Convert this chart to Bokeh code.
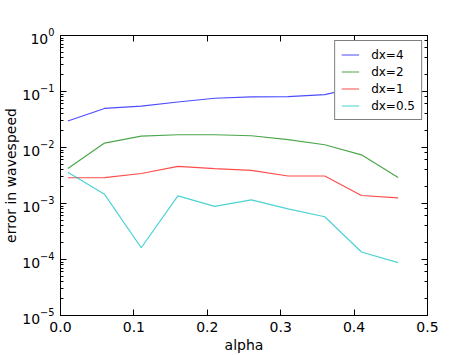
from bokeh.plotting import figure
from bokeh.models import Range1d, LogAxis, LinearAxis, FixedTicker, Legend, LegendItem, CustomJSTickFormatter
from bokeh.embed import file_html
from bokeh.resources import INLINE

alpha = [0.01, 0.06, 0.11, 0.16, 0.21, 0.26, 0.31, 0.36, 0.41, 0.46]
err_dx4 = [0.0298, 0.0498, 0.0547, 0.065, 0.0757, 0.080, 0.081, 0.088, 0.123, 0.16]
err_dx2 = [0.0042, 0.0120, 0.0160, 0.0169, 0.0169, 0.0162, 0.0138, 0.0112, 0.0074, 0.0029]
err_dx1 = [0.00288, 0.0029, 0.00343, 0.0046, 0.0042, 0.0039, 0.0031, 0.0031, 0.00139, 0.00126]
err_dx05 = [0.0036, 0.00146, 0.000162, 0.00137, 0.00089, 0.00116, 0.0008, 0.00058, 0.000136, 0.000088]
series = [("dx=4", err_dx4, "#0000ff"), ("dx=2", err_dx2, "#008000"),
          ("dx=1", err_dx1, "#ff0000"), ("dx=0.5", err_dx05, "#00bfbf")]
x_ticks = [0.0, 0.1, 0.2, 0.3, 0.4, 0.5]

FONT = "DejaVu Sans"

p = figure(width=474, height=355, output_backend="svg", toolbar_location=None,
           y_axis_type="log", x_range=Range1d(0, 0.5), y_range=Range1d(1e-5, 1),
           min_border_left=60, min_border_right=47, min_border_top=35, min_border_bottom=36)
p.xgrid.visible = False
p.ygrid.visible = False
p.outline_line_color = "black"
p.outline_line_width = 1
p.background_fill_color = "white"
p.border_fill_color = "white"

p.xaxis.ticker = FixedTicker(ticks=x_ticks)
p.xaxis.formatter = CustomJSTickFormatter(code="return tick.toFixed(1);")

for ax in p.xaxis + p.yaxis:
    ax.major_tick_in = 6
    ax.major_tick_out = 0
    ax.minor_tick_in = 3
    ax.minor_tick_out = 0
    ax.axis_line_color = None
    ax.major_label_text_font = FONT
    ax.major_label_text_font_size = "14px"
    ax.major_label_text_color = "black"
    ax.axis_label_text_font = FONT
    ax.axis_label_text_font_size = "14px"
    ax.axis_label_text_font_style = "normal"
    ax.axis_label_text_color = "black"
p.xaxis.major_label_standoff = 6
p.yaxis.major_label_standoff = 6
p.xaxis.minor_tick_in = 0
p.xaxis.axis_label = "alpha"
p.yaxis.axis_label = "error in wavespeed"
p.xaxis.axis_label_standoff = 2
p.yaxis.axis_label_standoff = 0

blank = CustomJSTickFormatter(code="return '';")
top = LinearAxis(ticker=FixedTicker(ticks=x_ticks), formatter=blank, major_tick_in=6, major_tick_out=0,
                 minor_tick_in=0, minor_tick_out=0, axis_line_color=None)
right = LogAxis(formatter=CustomJSTickFormatter(code="return '';"), major_tick_in=6, major_tick_out=0,
                minor_tick_in=3, minor_tick_out=0, axis_line_color=None)
p.add_layout(top, "above")
p.add_layout(right, "right")

items = []
for name, ys, col in series:
    r = p.line(alpha, ys, line_color=col, line_width=1.2, line_alpha=0.7)
    items.append(LegendItem(label=name, renderers=[r]))

leg = Legend(items=items, location="top_right")
leg.margin = 5
leg.padding = 6
leg.spacing = 2
leg.label_height = 15
leg.glyph_height = 15
leg.glyph_width = 18
leg.label_standoff = 12
leg.label_text_font = FONT
leg.label_text_font_size = "12px"
leg.label_text_color = "black"
leg.border_line_color = "black"
leg.border_line_width = 1
leg.background_fill_alpha = 1
p.add_layout(leg, "center")

open("out.html", "w").write(file_html(p, INLINE))
